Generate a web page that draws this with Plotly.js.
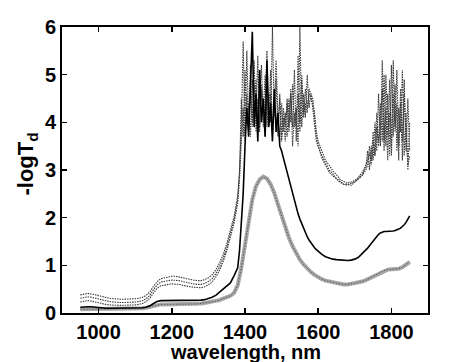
<!DOCTYPE html>
<html>
<head>
<meta charset="utf-8">
<script src="https://cdn.plot.ly/plotly-3.0.1.min.js"></script>
<style>html,body{margin:0;padding:0;background:#fff;}#chart{width:474px;height:362px;}</style>
</head>
<body>
<div id="chart"></div>
<script>
// wavelength grid for the saturated (upper) spectra and the black spectrum
const wlUpper = [950,960,970,980,990,1000,1010,1020,1030,1040,1050,1060,1070,1080,1090,1100,1110,1120,1130,1140,1150,1160,1170,1180,1190,1200,1210,1220,1230,1240,1250,1260,1270,1280,1290,1300,1310,1320,1330,1340,1350,1360,1370,1380,
1385,1390,1395,1400,1405,1410,1415,1420,1425,1430,1435,1440,1445,1450,1455,1460,1465,1470,1475,1480,1485,1490,1495,1500,1505,1510,1515,1520,1525,1530,1535,1540,1545,1550,1555,1560,1565,1570,1575,1580,1585,1590,1595,1600,
1610,1620,1630,1640,1650,1660,1670,1680,1690,1700,1710,1720,1730,
1735,1740,1745,1750,1755,1760,1765,1770,1775,1780,1785,1790,1795,1800,1805,1810,1815,1820,1825,1830,1835,1840,1845,1850];

const upper1 = [0.38,0.40,0.41,0.40,0.38,0.36,0.34,0.32,0.31,0.30,0.29,0.29,0.29,0.29,0.29,0.30,0.31,0.33,0.37,0.44,0.56,0.66,0.72,0.74,0.76,0.77,0.77,0.76,0.74,0.72,0.70,0.69,0.68,0.68,0.70,0.74,0.80,0.90,1.04,1.22,1.45,1.72,2.02,2.45,
3.0,3.9,5.7,3.8,4.6,4.0,5.2,3.9,4.8,4.1,5.4,3.8,4.7,4.2,5.0,3.9,4.6,4.0,6.0,4.1,4.9,3.8,4.5,3.7,4.3,3.9,4.4,3.8,4.6,3.9,5.1,3.6,5.4,4.0,4.9,4.2,4.7,4.3,4.6,4.5,4.4,4.2,3.8,3.6,
3.38,3.2,3.1,2.98,2.9,2.8,2.76,2.72,2.75,2.78,2.85,2.95,3.1,
3.2,3.35,3.1,3.6,3.3,3.9,3.5,4.4,3.6,5.0,3.5,4.6,3.3,5.2,3.7,4.8,3.4,4.3,3.8,5.1,3.3,4.2,3.0,4.0];

const upper2 = [0.31,0.33,0.34,0.33,0.31,0.29,0.27,0.25,0.24,0.23,0.22,0.22,0.22,0.22,0.22,0.23,0.24,0.26,0.30,0.37,0.49,0.59,0.65,0.67,0.68,0.69,0.69,0.68,0.66,0.64,0.62,0.61,0.60,0.60,0.62,0.66,0.72,0.82,0.96,1.14,1.37,1.64,1.95,2.38,
2.9,4.5,3.7,5.1,4.0,4.4,3.7,4.9,4.2,4.9,3.8,4.5,5.2,3.9,4.4,5.5,4.0,4.6,3.7,4.3,5.3,4.1,3.6,4.4,3.8,4.2,3.7,4.5,4.0,4.8,3.9,4.3,3.5,6.0,3.9,4.6,4.1,5.0,4.3,4.6,4.5,4.1,3.7,3.5,
3.3,3.15,3.0,2.92,2.82,2.76,2.7,2.68,2.72,2.76,2.82,2.9,3.05,
3.4,3.0,3.5,3.2,4.0,3.4,4.6,3.5,5.3,3.6,4.3,3.2,4.9,3.5,5.3,3.8,4.4,3.2,4.7,3.6,4.9,3.4,4.5,3.4];

const upper3 = [0.23,0.25,0.26,0.25,0.23,0.21,0.19,0.18,0.17,0.16,0.16,0.16,0.16,0.16,0.16,0.17,0.18,0.20,0.24,0.31,0.42,0.52,0.57,0.59,0.60,0.61,0.61,0.60,0.58,0.56,0.55,0.54,0.53,0.53,0.55,0.59,0.65,0.75,0.89,1.07,1.30,1.57,1.88,2.30,
2.8,3.6,4.3,3.6,5.5,3.9,4.6,4.0,5.3,3.8,4.5,3.9,4.8,4.2,3.7,4.6,4.0,5.1,3.8,4.5,4.0,3.7,4.6,3.6,4.1,3.6,4.5,3.9,4.7,3.5,4.2,3.9,4.6,3.8,5.0,4.1,4.4,4.2,4.7,4.6,4.3,3.9,3.6,3.5,
3.25,3.1,2.95,2.88,2.8,2.74,2.7,2.7,2.68,2.74,2.8,2.88,3.0,
3.1,3.5,3.2,3.8,3.3,4.2,3.6,3.9,4.7,3.4,5.0,3.7,4.2,3.3,4.6,3.9,5.1,3.5,4.4,3.2,4.6,3.7,3.1,3.3];

const blackSpec = [0.12,0.13,0.13,0.13,0.12,0.12,0.11,0.10,0.10,0.10,0.10,0.10,0.10,0.10,0.10,0.10,0.10,0.11,0.12,0.15,0.20,0.24,0.26,0.26,0.26,0.26,0.26,0.26,0.26,0.26,0.26,0.26,0.26,0.27,0.28,0.30,0.33,0.37,0.43,0.50,0.56,0.63,0.78,0.95,
1.3,1.9,2.5,3.5,4.3,3.7,4.8,5.9,3.9,4.6,3.6,5.1,4.0,4.5,3.7,5.3,3.9,4.4,3.6,4.7,3.8,4.2,3.5,3.4,3.25,3.1,2.95,2.78,2.62,2.47,2.33,2.2,2.08,1.97,1.87,1.77,1.68,1.6,1.53,1.47,1.42,1.37,1.33,1.29,
1.23,1.18,1.15,1.13,1.12,1.11,1.10,1.10,1.11,1.13,1.17,1.24,1.32,
1.36,1.41,1.46,1.51,1.56,1.61,1.65,1.68,1.70,1.71,1.71,1.71,1.71,1.71,1.72,1.73,1.74,1.76,1.78,1.81,1.85,1.90,1.97,2.04];

// wavelength grid and values for the lower (grey) spectra
const wlLower = [950,960,970,980,990,1000,1010,1020,1030,1040,1050,1060,1070,1080,1090,1100,1110,1120,1130,1140,1150,1160,1170,1180,1190,1200,1210,1220,1230,1240,1250,1260,1270,1280,1290,1300,1310,1320,1330,1340,1350,1360,1370,1380,1390,1400,1410,1420,1430,1440,1450,1460,1470,1480,1490,1500,1510,1520,1530,1540,1550,1560,1570,1580,1590,1600,1610,1620,1630,1640,1650,1660,1670,1680,1690,1700,1710,1720,1730,1740,1750,1760,1770,1780,1790,1800,1810,1820,1830,1840,1850];
const lowerSpec = [0.08,0.08,0.09,0.09,0.08,0.08,0.08,0.08,0.08,0.08,0.08,0.08,0.08,0.08,0.08,0.09,0.09,0.10,0.11,0.13,0.15,0.17,0.18,0.18,0.18,0.18,0.18,0.18,0.18,0.18,0.18,0.19,0.19,0.20,0.21,0.22,0.23,0.25,0.27,0.30,0.33,0.36,0.42,0.58,0.95,1.45,1.98,2.38,2.66,2.80,2.86,2.82,2.70,2.52,2.28,2.03,1.80,1.58,1.40,1.25,1.12,1.02,0.93,0.86,0.80,0.75,0.71,0.68,0.66,0.64,0.62,0.61,0.60,0.60,0.61,0.62,0.64,0.66,0.69,0.73,0.77,0.81,0.85,0.89,0.91,0.92,0.92,0.93,0.96,1.01,1.07];

const xTicks = [1000,1200,1400,1600,1800];
const yTicks = [0,1,2,3,4,5,6];
const xTitle = 'wavelength, nm';
const yTitle = '-logT<sub>d</sub>';

const dotStyle = {color:'#3a3a3a', width:1.1, dash:'1.5px,1px'};
const traces = [
  {x: wlLower, y: lowerSpec, mode:'lines', line:{color:'#a8a8a8', width:4}, hoverinfo:'skip'},
  {x: wlLower, y: lowerSpec, mode:'lines', line:{color:'#555555', width:1, dash:'1.5px,1.5px'}, hoverinfo:'skip'},
  {x: wlUpper, y: upper1, mode:'lines', line:dotStyle},
  {x: wlUpper, y: upper2, mode:'lines', line:dotStyle},
  {x: wlUpper, y: upper3, mode:'lines', line:dotStyle},
  {x: wlUpper, y: blackSpec, mode:'lines', line:{color:'#000000', width:1.6}}
];

const fam = 'Liberation Sans, Arial, sans-serif';
const tickFont = {family:fam, size:20, color:'#000', weight:'bold'};
const layout = {
  width:474, height:362,
  margin:{l:62, r:46, t:27, b:49},
  paper_bgcolor:'#fff', plot_bgcolor:'#fff',
  showlegend:false,
  xaxis:{range:[900,1900], tickvals:xTicks, ticks:'inside', ticklen:5, tickwidth:1.5, tickcolor:'#000',
    showline:true, linecolor:'#000', linewidth:2, mirror:'ticks', showgrid:false, zeroline:false,
    tickfont:tickFont},
  yaxis:{range:[0,6], tickvals:yTicks, ticks:'inside', ticklen:5, tickwidth:1.5, tickcolor:'#000',
    showline:true, linecolor:'#000', linewidth:2, mirror:'ticks', showgrid:false, zeroline:false,
    tickfont:tickFont},
  annotations:[
    {text:xTitle, xref:'paper', yref:'paper', x:0.5, y:-0.137, xanchor:'center', yanchor:'middle', showarrow:false,
      font:{family:fam, size:20, color:'#000', weight:'bold'}},
    {text:yTitle, xref:'paper', yref:'paper', x:-0.095, y:0.52, xanchor:'center', yanchor:'middle', textangle:-90, showarrow:false,
      font:{family:fam, size:22, color:'#000', weight:'bold'}}
  ]
};
Plotly.newPlot('chart', traces, layout, {staticPlot:true, displayModeBar:false});
</script>
</body>
</html>
